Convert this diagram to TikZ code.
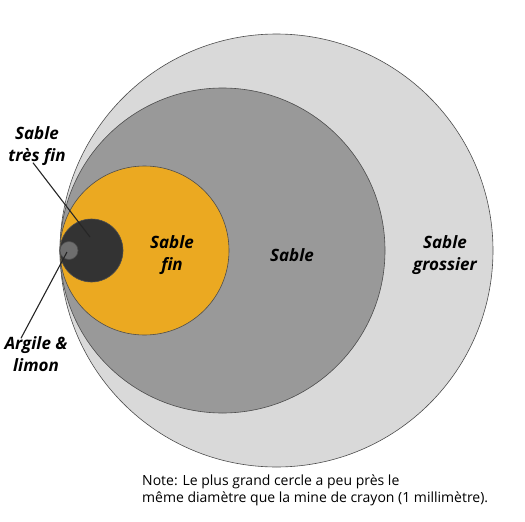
\documentclass[tikz,border=0pt]{standalone}
\usepackage{fontspec}
\setmainfont{Open Sans}
\usetikzlibrary{positioning}

\definecolor{coarsecol}{HTML}{D9D9D9}
\definecolor{sandcol}{HTML}{999999}
\definecolor{finecol}{HTML}{EBA921}
\definecolor{vfinecol}{HTML}{333333}
\definecolor{claycol}{HTML}{6E6E6E}
\definecolor{rimcol}{HTML}{4D4D4D}

\begin{document}
\begin{tikzpicture}[
    x=1pt, y=-1pt,
    disc/.style={circle, draw=rimcol, line width=0.6pt, inner sep=0pt},
    lbl/.style={font=\fontsize{17}{22}\selectfont\bfseries\itshape,
      align=center, inner sep=1pt},
    lead/.style={black!85, line width=1.1pt}
  ]
  \useasboundingbox (0,0) rectangle (525,522);

  % the nested discs, all touching at the left

  \node (coarse) [disc, fill=coarsecol, minimum size=433pt] at (276.5,250.5) {};
  \node (sand)   [disc, fill=sandcol,   minimum size=325pt] at (222.5,250.5) {};
  \node (fine)   [disc, fill=finecol,   minimum size=169pt] at (144.5,250.5) {};
  \node (vfine)  [disc, fill=vfinecol,  minimum size=63pt]  at (91.5,250.5)  {};
  \node (clay)   [disc, fill=claycol,   minimum size=18pt]  at (69,250.5)    {};

  % labels

  \node (lblcoarse) [lbl] at (445,255)   {Sable\\grossier};
  \node (lblsand)   [lbl] at (292,255)   {Sable};
  \node (lblfine)   [lbl] at (172,255)   {Sable\\fin};
  \node (lblvfine)  [lbl] at (37,146)    {Sable\\très fin};
  \node (lblclay)   [lbl] at (36,354)    {Argile \&\\limon};

  \node (note) [anchor=north west, align=left, inner sep=0pt,
                font=\fontsize{14}{16.7}\selectfont] at (142,475)
                {Note: Le plus grand cercle a peu près le\\
                 même diamètre que la mine de crayon (1 millimètre).};

  % leader lines

  \coordinate (vfinept) at (90,237);
  \coordinate (claypt)  at (67,252);

  \draw[lead] ([xshift=-4pt,yshift=4pt]lblvfine.south) -- (vfinept);
  \draw[lead] ([xshift=-15pt,yshift=-3pt]lblclay.north) -- (claypt);

\end{tikzpicture}
\end{document}
